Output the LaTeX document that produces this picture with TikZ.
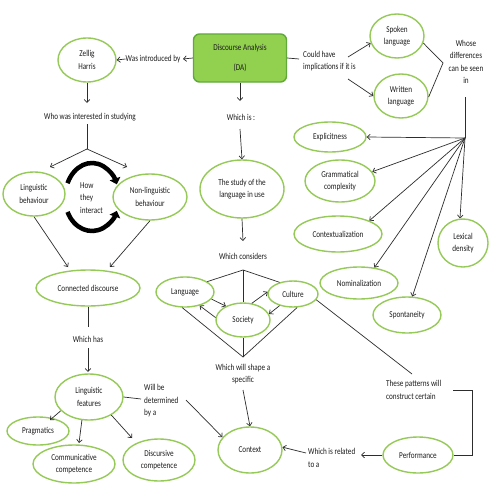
\documentclass[tikz,border=0pt]{standalone}
\usepackage{fontspec}
\setmainfont{Carlito}[FakeStretch=0.8]
\usetikzlibrary{shapes.geometric,arrows.meta}
\definecolor{eg}{RGB}{150,202,88}
\definecolor{dafill}{RGB}{146,208,80}
\definecolor{daborder}{RGB}{96,170,58}
\definecolor{ln}{RGB}{45,45,45}
\definecolor{tx}{RGB}{30,30,30}
\begin{document}
\begin{tikzpicture}[x=1pt,y=-1pt,
  el/.style={ellipse,draw=eg,line width=1.4pt,inner sep=0pt,align=center,text=tx,font=\fontsize{9}{12.5}\selectfont},
  lbl/.style={inner sep=0pt,align=center,text=tx,font=\fontsize{9}{12.5}\selectfont},
  lbll/.style={lbl,align=left,anchor=west},
  con/.style={draw=ln,line width=0.7pt},
  arr/.style={con,-{Straight Barb[length=3pt,width=5.5pt]}},
  circ/.style={draw=black,line width=4.5pt,-{Triangle[length=6pt,width=11pt]}}
]
\useasboundingbox[fill=white] (0,0) rectangle (495,495);

% ---------- nodes ----------
\node[lbl,draw=daborder,fill=dafill,line width=1.4pt,rounded corners=6pt,minimum width=93pt,minimum height=48pt] (da) at (240,58) {Discourse Analysis\\[8pt](DA)};
\node[el,minimum width=58pt,minimum height=44pt] (zh) at (87,60) {Zellig\\Harris};
\node[lbl] (wasintro) at (153,59) {Was introduced by};
\node[lbl] (wis) at (90,117) {Who was interested in studying};
\node[el,minimum width=62pt,minimum height=44pt] (lb) at (34,194) {Linguistic\\behaviour};
\node[el,minimum width=74pt,minimum height=46pt] (nlb) at (150,197) {Non-linguistic\\behaviour};
\node[lbll] (hti) at (80,198) {How\\they\\interact};
\node[el,minimum width=104pt,minimum height=36pt] (cd) at (88,288) {Connected discourse};
\node[lbl] (whichhas) at (88,339) {Which has};
\node[el,minimum width=68pt,minimum height=46pt] (lf) at (89,397) {Linguistic\\features};
\node[el,minimum width=62pt,minimum height=28pt] (prag) at (38,431) {Pragmatics};
\node[el,minimum width=82pt,minimum height=38pt] (cc) at (74,464) {Communicative\\competence};
\node[el,minimum width=72pt,minimum height=42pt] (dc) at (159,460) {Discursive\\competence};
\node[lbll] (wbd) at (144,401) {Will be\\determined\\by a};
\node[el,minimum width=64pt,minimum height=46pt] (context) at (250,450) {Context};
\node[lbl] (wws) at (243,374) {Which will shape a\\specific};
\node[lbll] (wir) at (308,458) {Which is related\\to a};
\node[el,minimum width=70pt,minimum height=36pt] (perf) at (418,455) {Performance};
\node[lbll] (tpw) at (386,390) {These patterns will\\construct certain};
\node[el,minimum width=84pt,minimum height=58pt] (study) at (242,189) {The study of the\\language in use};
\node[lbl] (whichis) at (241,117) {Which is :};
\node[lbl] (whichcons) at (243,256) {Which considers};
\node[el,minimum width=58pt,minimum height=30pt] (lang) at (185,292) {Language};
\node[el,minimum width=54pt,minimum height=34pt] (soc) at (243,320) {Society};
\node[el,minimum width=50pt,minimum height=26pt] (cult) at (293,294) {Culture};
\node[lbll] (chi) at (303,61) {Could have\\implications if it is};
\node[el,minimum width=54pt,minimum height=44pt] (spoken) at (397,36) {Spoken\\language};
\node[el,minimum width=54pt,minimum height=44pt] (written) at (401,96) {Written\\language};
\node[lbl] (wdc) at (466,62) {Whose\\differences\\can be seen\\in};
\node[el,minimum width=72pt,minimum height=30pt] (expl) at (330,137) {Explicitness};
\node[el,minimum width=70pt,minimum height=42pt] (gram) at (340,181) {Grammatical\\complexity};
\node[el,minimum width=88pt,minimum height=36pt] (ctxz) at (338,234) {Contextualization};
\node[el,minimum width=78pt,minimum height=32pt] (nomi) at (359,283) {Nominalization};
\node[el,minimum width=68pt,minimum height=36pt] (spont) at (407,315) {Spontaneity};
\node[el,minimum width=50pt,minimum height=48pt] (lexd) at (463,243) {Lexical\\density};

% ---------- junction coordinates ----------
\coordinate (daL) at (183,59);
\coordinate (zhA) at (87,103);
\coordinate (wisB) at (87,124);
\coordinate (apex1) at (87,149);
\coordinate (lbT) at (50,167);
\coordinate (nlbT) at (127,167);
\coordinate (cdL) at (68,267);
\coordinate (cdR) at (110,267);
\coordinate (cdB) at (88,327);
\coordinate (whB) at (88,348);
\coordinate (lfT) at (88,372);
\coordinate (lfR) at (141,399);
\coordinate (wbdR) at (186,400);
\coordinate (pragT) at (50,420);
\coordinate (ccT) at (79,443);
\coordinate (dcT) at (132,438);
\coordinate (wwsT) at (243,357);
\coordinate (wwsB) at (243,390);
\coordinate (apex2) at (243,270);
\coordinate (wiA) at (240,101);
\coordinate (wiB) at (240,129);
\coordinate (studyB) at (243,241);
\coordinate (tpwT) at (412,374);
\coordinate (tpwR) at (453,390);
\coordinate (corner) at (472,390);
\coordinate (perfL) at (361,455);
\coordinate (wirL) at (306,453);
\coordinate (chiL) at (299,59);
\coordinate (chiA) at (348,57);
\coordinate (chiB) at (348,79);
\coordinate (brk) at (443,63);
\coordinate (wdcB) at (465,97);
\coordinate (hub) at (465,138);

% ---------- connectors ----------
\draw[arr] (da.west) -- (daL);
\draw[arr] (wasintro.west) -- (zh.east);
\draw[arr] (zh.south) -- (zhA);
\draw[con] (wisB) -- (apex1);
\draw[arr] (apex1) -- (lbT);
\draw[arr] (apex1) -- (nlbT);
\draw[arr] (lb.south) -- (cdL);
\draw[arr] (nlb.south) -- (cdR);
\draw[con] (cd.south) -- (cdB);
\draw[arr] (whB) -- (lfT);
\draw[con] (lf.east) -- (lfR);
\draw[arr] (wbdR) -- (context.155);
\draw[arr] (lf.206) -- (pragT);
\draw[arr] (lf.253) -- (ccT);
\draw[arr] (lf.-39) -- (dcT);

% how they interact
\draw[circ] (92,198) ++(205:27pt and 33pt) arc[start angle=205,end angle=337,x radius=27pt,y radius=33pt];
\draw[circ] (92,198) ++(155:27pt and 35pt) arc[start angle=155,end angle=23,x radius=27pt,y radius=35pt];

% centre column
\draw[arr] (da.south -| wiA) -- (wiA);
\draw[arr] (wiB) -- (study.north);
\draw[arr] (study.south) -- (studyB);
\draw[con] (apex2) -- (lang.25);
\draw[con] (apex2) -- (cult.139);
\draw[con] (apex2) -- (soc.north);
\draw[con] (wwsT) -- (lang.260);
\draw[con] (wwsT) -- (cult.-73);
\draw[con] (wwsT) -- (soc.south);
\draw[arr] (lang.-15) -- (soc.141);
\draw[arr] (soc.175) -- (lang.-43);
\draw[arr] (soc.62) -- (cult.175);
\draw[arr] (cult.221) -- (soc.13);
\draw[arr] (wwsB) -- (context.north);

% lower right
\draw[con] (cult.-14) -- (tpwT);
\draw[con] (tpwR) -- (corner) |- (perf.east);
\draw[arr] (perf.west) -- (perfL);
\draw[arr] (wirL) -- (context.5);

% upper right
\draw[con] (da.east) -- (chiL);
\draw[arr] (chiA) -- (spoken.195);
\draw[arr] (chiB) -- (written.180);
\draw[con] (spoken.-15) -- (brk) -- (written.-2);
\draw[con] (wdcB) -- (hub);
\draw[arr] (hub) -- (expl.east);
\draw[arr] (hub) -- (gram.16);
\draw[arr] (hub) -- (ctxz.23);
\draw[arr] (hub) -- (nomi.45);
\draw[arr] (hub) -- (spont.74);
\draw[arr] (hub) -- (lexd.97);
\end{tikzpicture}
\end{document}
